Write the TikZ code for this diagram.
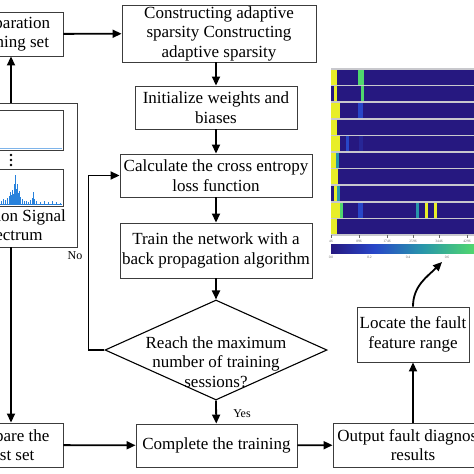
\documentclass[tikz,border=0pt]{standalone}
\usepackage{fontspec}
\setmainfont{Liberation Serif}
\usepackage{tikz}
\usetikzlibrary{arrows.meta}
\usetikzlibrary{shapes.geometric}

\definecolor{boxgray}{RGB}{60,60,60}
\definecolor{hmbg}{RGB}{38,24,128}
\definecolor{hmblue}{RGB}{40,70,200}
\definecolor{hmteal}{RGB}{40,150,170}
\definecolor{hmgreen}{RGB}{80,215,110}
\definecolor{hmyel}{RGB}{232,238,40}
\definecolor{hmsep}{RGB}{200,200,205}
\definecolor{specblue}{RGB}{40,130,220}
\pgfdeclarehorizontalshading{cbarshade}{100bp}{color(0bp)=(hmbg); color(25bp)=(hmbg); color(40bp)=(hmblue); color(57bp)=(hmteal); color(75bp)=(hmgreen); color(100bp)=(hmgreen)}

\begin{document}
\begin{tikzpicture}[x=1pt, y=-1pt,
    txt/.style={align=center, inner sep=0pt, font=\fontsize{17}{19.5}\selectfont},
    box/.style={txt, draw=boxgray, line width=0.9pt},
    plotbox/.style={draw=boxgray, line width=0.9pt, inner sep=0pt},
    arr/.style={line width=1.8pt, -{Triangle[length=9pt,width=8pt]}},
    tag/.style={inner sep=0pt, font=\fontsize{12}{14}\selectfont},
    hmtick/.style={inner sep=0pt, text=black!60, font=\fontsize{3.6}{4}\selectfont}]
    \useasboundingbox (0,0) rectangle (474,474);
    \clip (0,0) rectangle (474,474);

    % heat map
    \fill[hmbg] (331,69) rectangle (480,235);
    \foreach \r/\xa/\xb/\c in {1/331/337/hmyel, 1/358/364/hmgreen, 2/334/337/hmyel, 2/361/364/hmgreen,
        3/331/340/hmyel, 3/358/363/hmblue, 4/331/337/hmyel, 5/331/340/hmyel, 5/346/349/hmblue,
        5/359/363/hmbg!70!hmblue, 6/331/336/hmyel, 6/336/339/hmteal, 7/331/338/hmyel,
        8/334/337/hmyel, 8/337/340/hmteal, 9/331/340/hmyel, 9/340/343/hmgreen, 9/358/363/hmblue,
        9/416/419/hmteal, 9/425/428/hmyel, 9/434/437/hmyel, 10/331/337/hmyel}
        \fill[\c] (\xa,{69+(\r-1)*16.6}) rectangle (\xb,{69+\r*16.6});
    \foreach \k in {0,...,10}
        \draw[hmsep, line width=1.6pt] (331,{69+\k*16.6}) -- (480,{69+\k*16.6});
    \foreach \x/\t in {331/46, 359/896, 387/1746, 413/2596, 439/3446, 467/4296} {
        \draw[black!60, line width=0.3pt] (\x,235) -- (\x,237.5);
        \node[hmtick] (tick\t) at (\x,241) {\t};
    }
    \shade[shading=cbarshade] (331,244) rectangle (474,253);
    \foreach \x/\t [count=\n] in {331/0.0, 369.5/0.2, 408/0.4, 447/0.6}
        \node[hmtick] (cb\n) at (\x,257.5) {\t};
    \coordinate (hmtip) at (442,262);

    % signal panel
    \node[plotbox, minimum width=132, minimum height=144] (panel) at (11,175) {};
    \node[plotbox, minimum width=104, minimum height=40] (specA) at (11,130) {};
    \node[plotbox, minimum width=104, minimum height=37] (specB) at (11,187.5) {};
    \draw[specblue!60, line width=0.7pt] (-40,148) -- (62,148);
    \draw[specblue, line width=0.7pt] (-40,204) -- (62,204);
    \foreach \x/\h in {1/3, 3/5, 5/4, 7/6, 9/8, 10/12, 11/9, 12/14, 13/10, 14/20, 15/29, 16/15,
        17/20, 18/11, 19/13, 20/7, 22/5, 24/3, 26/3, 28/2, 30/4, 32/6, 33/12, 34/5, 36/3,
        40/2, 44/3, 48/2, 52/3, 56/2, 60/1}
        \draw[specblue, line width=0.9pt] (\x,204) -- ++(0,-\h);
    \foreach \y in {155,160,165}
        \fill (11,\y) circle (1.3);
    \node[txt] (sig) at (10,227) {Vibration Signal\\Spectrum};

    % flow
    \node[box, minimum width=104, minimum height=44] (prep) at (11,34) {Preparation\\training set};
    \node[box, minimum width=194, minimum height=57] (construct) at (219,33.5) {Constructing adaptive\\sparsity Constructing\\adaptive sparsity};
    \node[box, minimum width=162, minimum height=43] (init) at (216,107.5) {Initialize weights and\\biases};
    \node[box, minimum width=192, minimum height=43] (calc) at (216,175.5) {Calculate the cross entropy\\loss function};
    \node[box, minimum width=192, minimum height=55] (train) at (216,250.5) {Train the network with a\\back propagation algorithm};
    \node[diamond, draw=black, line width=1.1pt, inner sep=0pt, minimum width=222, minimum height=100] (reach) at (216,350) {};
    \node[txt] (reachtext) at (216,362) {Reach the maximum\\number of training\\sessions?};
    \node[box, minimum width=161, minimum height=43] (complete) at (216.5,445.5) {Complete the training};
    \node[box, minimum width=104, minimum height=44] (testprep) at (11,445) {Prepare the\\test set};
    \node[box, minimum width=160, minimum height=44] (output) at (413,445) {Output fault diagnosis\\results};
    \node[box, minimum width=112, minimum height=55] (locate) at (413,334.5) {Locate the fault\\feature range};
    \node[tag] (yes) at (242,414) {Yes};
    \node[tag] (no) at (75,256) {No};

    \draw[arr] (prep) -- (construct);
    \draw[arr] (init.north |- construct.south) -- (init.north);
    \draw[arr] (init) -- (calc);
    \draw[arr] (calc) -- (train);
    \draw[arr] (train) -- (reach.north);
    \draw[arr] (reach.south) -- (complete);
    \draw[arr] (reach.west) -- ++(-16,0) |- (calc.west);
    \draw[arr] (panel.north) -- (prep);
    \draw[arr] (panel.south) -- (testprep);
    \draw[arr] (testprep) -- (complete);
    \draw[arr] (complete) -- (output);
    \draw[arr] (output) -- (locate);
    \draw[arr] (locate.north) to[out=90, in=225] (hmtip);
\end{tikzpicture}
\end{document}
